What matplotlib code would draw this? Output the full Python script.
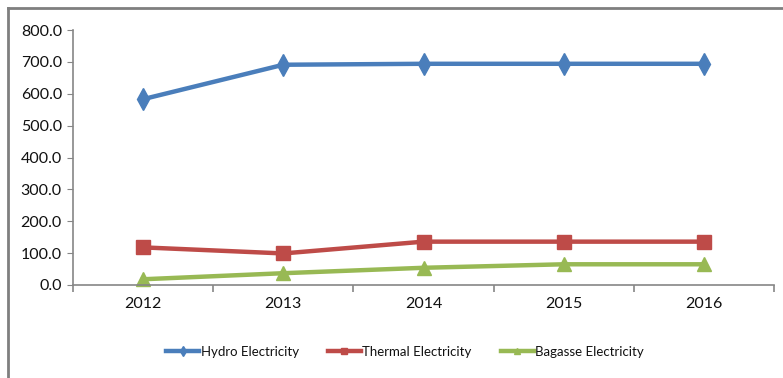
import matplotlib
matplotlib.use("Agg")
import matplotlib.pyplot as plt
from matplotlib.lines import Line2D

# dati
years = ["2012", "2013", "2014", "2015", "2016"]
hydro = [583, 691, 694, 694, 694]
thermal = [118, 99, 136, 136, 136]
bagasse = [18, 37, 54, 65, 65]

plt.rcParams['font.family'] = ['Lato', 'DejaVu Sans']

fig = plt.figure(figsize=(7.83, 3.78), dpi=100)
ax = fig.add_axes([73/783, 1-285/378, 701/783, 255/378])

x = list(range(len(years)))
blue, red, green = '#4A7EBB', '#BE4B48', '#98B954'
ax.plot(x, hydro, color=blue, lw=3.2, marker='d', ms=11, label='Hydro Electricity', clip_on=False)
ax.plot(x, thermal, color=red, lw=3.2, marker='s', ms=9.5, label='Thermal Electricity', clip_on=False)
ax.plot(x, bagasse, color=green, lw=3.2, marker='^', ms=10, label='Bagasse Electricity', clip_on=False)

ax.set_xlim(-0.5, len(years) - 0.5)
ax.set_ylim(0, 800)
ax.set_yticks(range(0, 801, 100))
ax.set_yticklabels(['%.1f' % v for v in range(0, 801, 100)])
ax.set_xticks(x)
ax.set_xticklabels(years)
ax.set_xticks([i - 0.5 for i in range(len(years) + 1)], minor=True)

for s in ['top', 'right']:
    ax.spines[s].set_visible(False)
for s in ['left', 'bottom']:
    ax.spines[s].set_color('#868686')
    ax.spines[s].set_linewidth(1.2)

ax.tick_params(axis='y', length=4, color='#868686', labelsize=11.5, pad=4, labelcolor='#111111')
ax.tick_params(axis='x', which='major', length=0, labelsize=11.5, pad=9, labelcolor='#111111')
ax.tick_params(axis='x', which='minor', length=5, color='#868686', width=1.2)

handles = [Line2D([], [], color=c, lw=3.2, marker=m, ms=5) for c, m in [(blue, 'd'), (red, 's'), (green, '^')]]
fig.legend(handles, ['Hydro Electricity', 'Thermal Electricity', 'Bagasse Electricity'],
           loc='center', bbox_to_anchor=(405/783, 1-352/378), ncol=3, frameon=False,
           fontsize=9.5, handlelength=2.5, handletextpad=0.1, columnspacing=2.2,
           labelcolor='#111111')

# cornice del grafico (solo sopra e a sinistra visibili)
fig.add_artist(Line2D([8/783, 1], [1-8/378, 1-8/378], color='#7f7f7f', lw=2))
fig.add_artist(Line2D([8/783, 8/783], [0, 1-8/378], color='#7f7f7f', lw=2))

fig.savefig('out.png', dpi=100)
